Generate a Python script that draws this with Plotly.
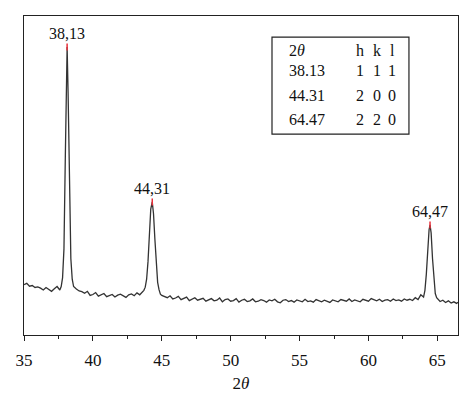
import plotly.graph_objects as go

# ---------------- data ----------------
theta = [
    35.0, 35.2, 35.4, 35.6, 35.8, 36.0, 36.2, 36.4, 36.6, 36.8, 37.0, 37.2, 37.4, 37.6,
    37.7, 37.8, 37.9, 38.0, 38.05, 38.13, 38.2, 38.3, 38.4, 38.5, 38.6,
    38.8, 39.0, 39.2, 39.4, 39.6, 39.8, 40.0, 40.2, 40.4, 40.6, 40.8, 41.0, 41.2, 41.4,
    41.6, 41.8, 42.0, 42.2, 42.4, 42.6, 42.8, 43.0, 43.2, 43.4, 43.6,
    43.7, 43.8, 43.9, 44.0, 44.1, 44.2, 44.31, 44.4, 44.5, 44.6, 44.7, 44.8, 44.9,
    45.0, 45.2, 45.4, 45.6, 45.8, 46.0, 46.2, 46.4, 46.6, 46.8, 47.0, 47.2, 47.4, 47.6,
    47.8, 48.0, 48.2, 48.4, 48.6, 48.8, 49.0, 49.2, 49.4, 49.6, 49.8, 50.0, 50.2, 50.4,
    50.6, 50.8, 51.0, 51.2, 51.4, 51.6, 51.8, 52.0, 52.2, 52.4, 52.6, 52.8, 53.0, 53.2,
    53.4, 53.6, 53.8, 54.0, 54.2, 54.4, 54.6, 54.8, 55.0, 55.2, 55.4, 55.6, 55.8, 56.0,
    56.2, 56.4, 56.6, 56.8, 57.0, 57.2, 57.4, 57.6, 57.8, 58.0, 58.2, 58.4, 58.6, 58.8,
    59.0, 59.2, 59.4, 59.6, 59.8, 60.0, 60.2, 60.4, 60.6, 60.8, 61.0, 61.2, 61.4, 61.6,
    61.8, 62.0, 62.2, 62.4, 62.6, 62.8, 63.0, 63.2, 63.4, 63.6, 63.8, 64.0,
    64.1, 64.2, 64.3, 64.4, 64.47, 64.55, 64.65, 64.75, 64.85, 64.95,
    65.1, 65.2, 65.4, 65.6, 65.8, 66.0, 66.2, 66.4, 66.5,
]
intensity = [
    158, 162, 153, 155, 149, 151, 147, 141, 149, 143, 137, 145, 152, 141,
    152, 180, 270, 560, 780, 903, 760, 460, 240, 175, 152,
    144, 138, 136, 131, 137, 124, 127, 133, 122, 125, 130, 120, 124, 127,
    119, 125, 128, 122, 118, 126, 129, 123, 132, 126, 134,
    140, 150, 175, 230, 320, 395, 417, 380, 300, 220, 165, 142, 128,
    124, 121, 117, 123, 113, 116, 121, 111, 114, 119, 108, 113, 117, 109,
    112, 115, 106, 110, 114, 107, 109, 116, 104, 111, 113, 106, 108, 114,
    103, 109, 112, 105, 107, 113, 104, 106, 111, 108, 103, 110, 107, 112,
    104, 101, 109, 111, 105, 108, 103, 110, 106, 104, 112, 105, 107, 103,
    111, 108, 104, 109, 106, 102, 110, 107, 104, 111, 108, 106, 113, 105,
    110, 107, 104, 112, 109, 106, 114, 110, 107, 112, 105, 109, 111, 106,
    113, 108, 110, 106, 113, 109, 112, 108, 117, 111, 126, 119,
    140, 190, 270, 330, 345, 320, 240, 170, 130, 117,
    111, 105, 109, 102, 107, 100, 104, 99, 103,
]

peak_pos = [38.13, 44.31, 64.47]
peak_int = [903, 417, 345]
peak_labels = ["38,13", "44,31", "64,47"]

table_header = ["2<i>θ</i>", "h", "k", "l"]
table_theta = ["38.13", "44.31", "64.47"]
table_hkl = [["1", "1", "1"], ["2", "0", "0"], ["2", "2", "0"]]

x_ticks = [35, 40, 45, 50, 55, 60, 65]

FONT = "Liberation Serif"
LINE = "#333333"
TXT = "#111111"

fig = go.Figure()
fig.add_trace(go.Scatter(x=theta, y=intensity, mode="lines",
                         line=dict(color=LINE, width=1.3), showlegend=False,
                         hoverinfo="skip"))
fig.add_trace(go.Scatter(x=peak_pos, y=peak_int, mode="markers",
                         marker=dict(symbol="line-ns", size=5,
                                     line=dict(color="#e8303a", width=1.5)),
                         showlegend=False, hoverinfo="skip"))

for px, py, lab in zip(peak_pos, peak_int, peak_labels):
    fig.add_annotation(x=px, y=py, text=lab, showarrow=False, yanchor="bottom",
                       yshift=3, font=dict(family=FONT, size=16, color=TXT))

# table box
fig.add_shape(type="rect", x0=53.0, x1=62.94, y0=630, y1=934,
              line=dict(color="#222", width=1.2))
row_y = [893, 828, 752, 677]
col_x = [59.38, 60.62, 61.72]
fig.add_annotation(x=54.1, y=row_y[0], text=table_header[0], showarrow=False,
                   xanchor="left", font=dict(family=FONT, size=16, color=TXT))
for j in range(3):
    fig.add_annotation(x=col_x[j], y=row_y[0], text=table_header[j + 1], showarrow=False,
                       font=dict(family=FONT, size=16, color=TXT))
for i in range(3):
    fig.add_annotation(x=54.1, y=row_y[i + 1], text=table_theta[i], showarrow=False,
                       xanchor="left", font=dict(family=FONT, size=16, color=TXT))
    for j in range(3):
        fig.add_annotation(x=col_x[j], y=row_y[i + 1], text=table_hkl[i][j], showarrow=False,
                           font=dict(family=FONT, size=16, color=TXT))

fig.update_layout(
    width=474, height=405,
    margin=dict(l=24, r=16, t=16, b=70),
    paper_bgcolor="white", plot_bgcolor="white",
    font=dict(family=FONT, size=16, color=TXT),
    xaxis=dict(range=[35, 66.5], tickvals=x_ticks, ticks="outside", ticklen=5,
               tickcolor="#222", showline=True, linecolor="#222", linewidth=1.2,
               mirror=True, showgrid=False, zeroline=False, ticklabelstandoff=4,
               tickfont=dict(family=FONT, size=17, color=TXT),
               minor=dict(tickvals=[37.5, 42.5, 47.5, 52.5, 57.5, 62.5], ticks="outside",
                          ticklen=3, tickcolor="#222"),
               title=dict(text="2<i>θ</i>", standoff=8,
                          font=dict(family=FONT, size=17, color=TXT))),
    yaxis=dict(range=[0, 1000], showticklabels=False, ticks="", showline=True,
               linecolor="#222", linewidth=1.2, mirror=True, showgrid=False,
               zeroline=False),
)

fig.write_html("out.html")
